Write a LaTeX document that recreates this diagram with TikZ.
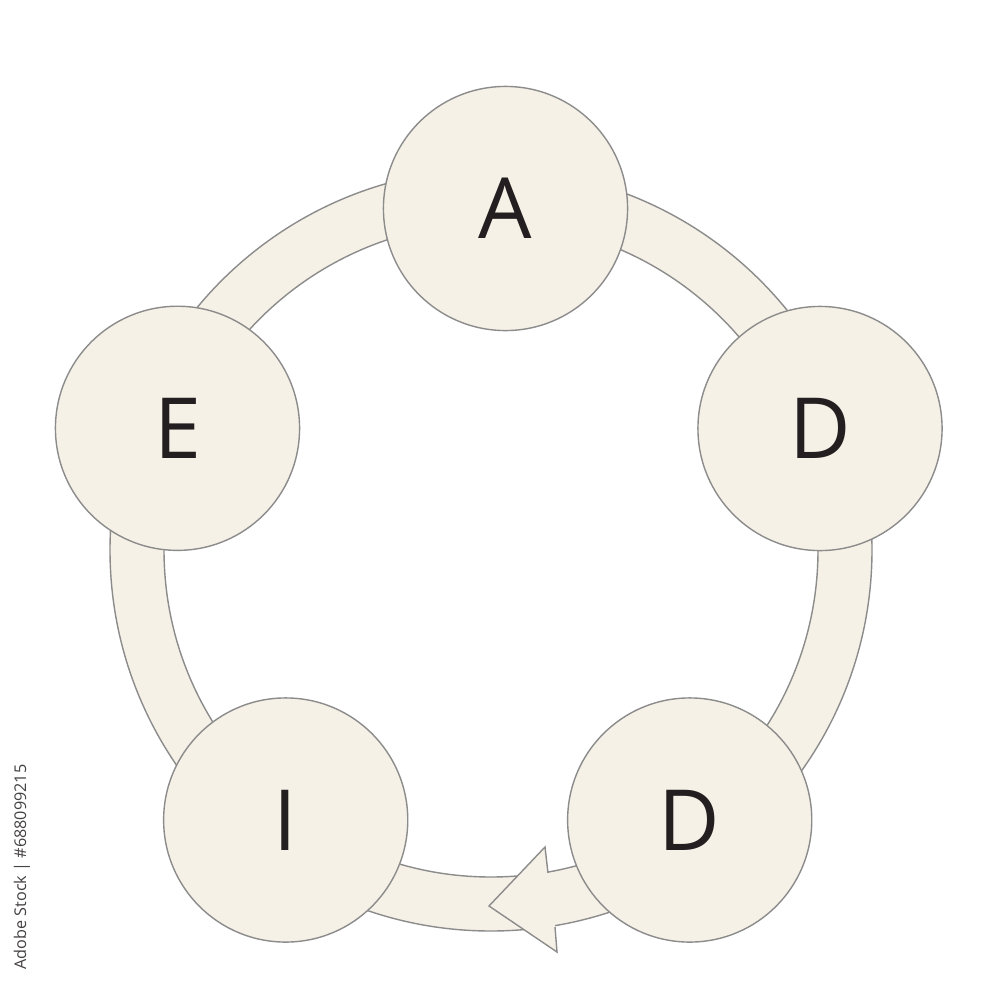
\documentclass[tikz,border=0pt]{standalone}
\usepackage{fontspec}
\setmainfont{Open Sans}
\definecolor{cream}{HTML}{F6F1E6}
\definecolor{edgegray}{HTML}{8C8C8C}
\definecolor{ink}{HTML}{231F20}
\begin{document}
\begin{tikzpicture}[x=0.01cm,y=-0.01cm,
  stagecircle/.style={circle, fill=cream, draw=edgegray, line width=0.4pt,
    minimum size=2.44cm, inner sep=0pt, font=\fontsize{24}{28}\selectfont, text=ink},
  ringline/.style={draw=edgegray, line width=0.4pt}
]
\useasboundingbox (0,0) rectangle (1000,1000);
\fill[white] (0,0) rectangle (1000,1000);
% ring band
\fill[cream, even odd rule] (491,550) circle[radius=381] (491,550) circle[radius=327];
\path[ringline] (491,550) circle[radius=381] (491,550) circle[radius=327];
% arrowhead
\fill[cream] (548,873) -- (545,847) -- (489,906) -- (557,952) -- (555,927) -- cycle;
\path[ringline, line join=miter] (548,873) -- (545,847) -- (489,906) -- (557,952) -- (555,927);
% stages
\node[stagecircle] (a) at (505.5,208.5) {A};
\node[stagecircle] (d1) at (820,428.5) {D};
\node[stagecircle] (d2) at (689.7,820) {D};
\node[stagecircle] (i) at (285.7,820) {I};
\node[stagecircle] (e) at (177.5,428.3) {E};
% vertical credit text
\node[rotate=90, font=\fontsize{4.6}{6}\selectfont, text=ink!85, inner sep=0pt] (wm) at (22,867) {Adobe Stock | \#688099215};
\end{tikzpicture}
\end{document}
